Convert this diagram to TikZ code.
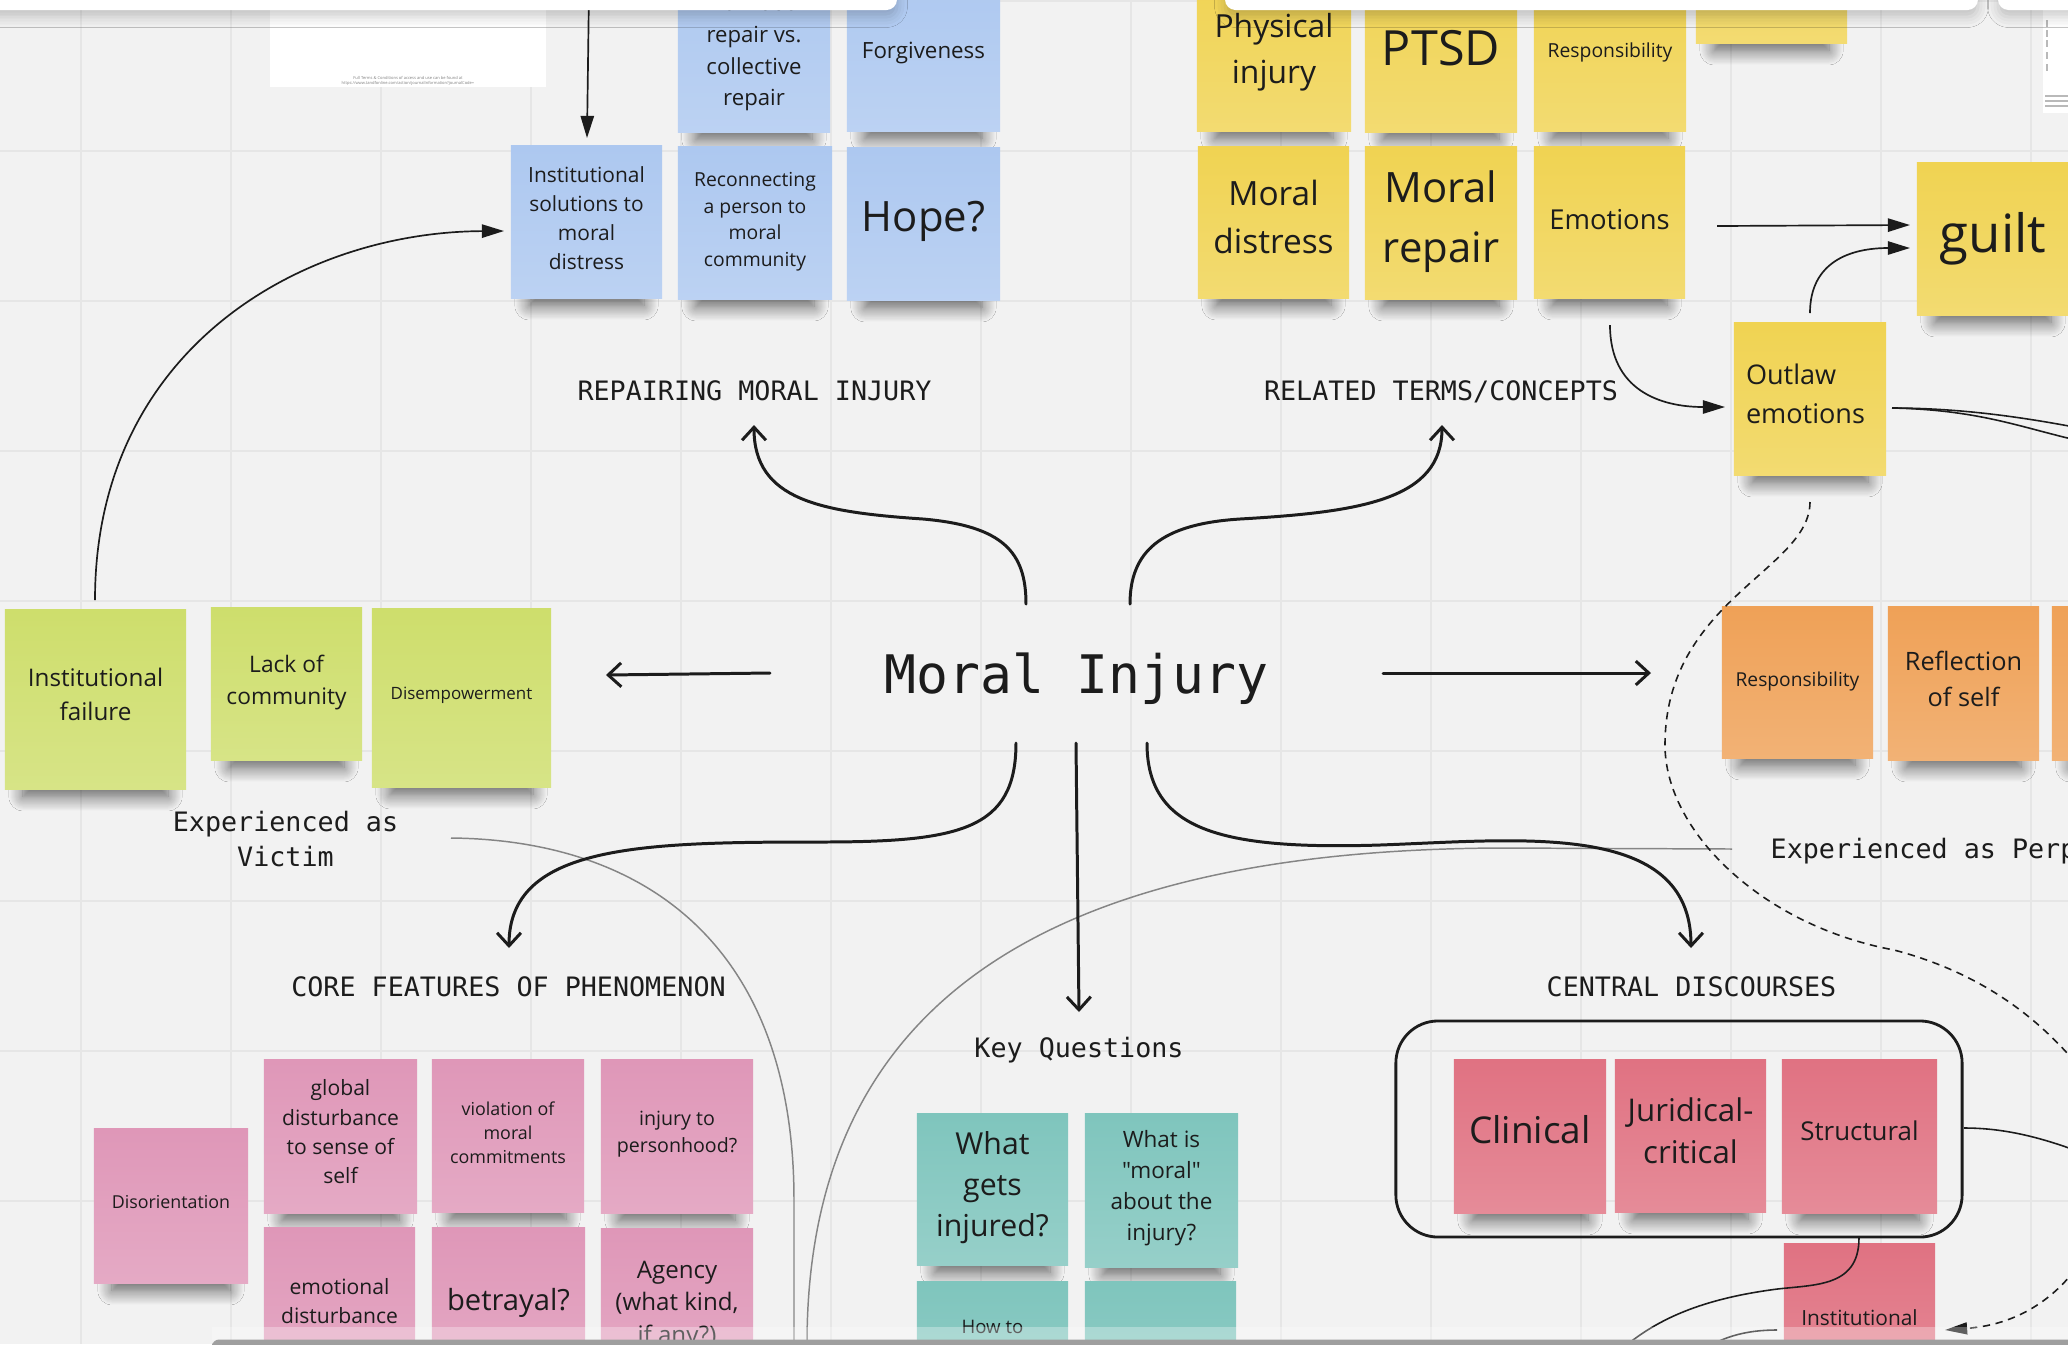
\documentclass[tikz,border=0pt]{standalone}
\usepackage{fontspec}
\setmainfont{Open Sans}
\newfontfamily\rawsans{Open Sans}[Ligatures=TeXOff]
\newfontfamily\monofont{DejaVu Sans Mono}
\usetikzlibrary{arrows.meta,shadows.blur}

\definecolor{boardbg}{HTML}{F2F2F2}
\definecolor{gridgrey}{HTML}{E6E6E6}
\definecolor{ink}{HTML}{1C1C1C}
\definecolor{nblue}{HTML}{ADC8F0}
\definecolor{nyellow}{HTML}{F0D352}
\definecolor{ngreen}{HTML}{CEDE6C}
\definecolor{norange}{HTML}{EFA157}
\definecolor{npink}{HTML}{DF97B8}
\definecolor{nred}{HTML}{E07282}
\definecolor{nteal}{HTML}{7FC5BD}
\definecolor{conngrey}{HTML}{858585}

% font size / baseline skip in pt
\newcommand{\fs}[2]{\fontsize{#1pt}{#2pt}\selectfont}
% sticky note: [text options]{name}{x1}{y1}{x2}{y2}{colour}{font}{text}
\newcommand{\snote}[9][]{%
  \path[noteshadow] ({#3+18},{#6-30}) rectangle ({#5-18},{#6-8});
  \node[sticky=#7,
        minimum width={(#5-(#3))*0.2845pt},
        minimum height={(#6-(#4))*0.2845pt}]
        (#2) at ({(#3+#5)/2},{(#4+#6)/2}) {};
  \node[notetext, font={#8}, #1] (#2-txt) at (#2.center) {#9};}

\tikzset{
  noteshadow/.style={blur shadow={shadow xshift=0pt, shadow yshift=-4.5pt,
      shadow opacity=60, shadow blur radius=4pt, shadow blur steps=14}},
  sticky/.style={inner sep=0pt, outer sep=0pt, top color=#1, bottom color=#1!82!white},
  notetext/.style={inner sep=0pt, text=ink, align=center},
  heading/.style={font={\monofont\fs{7.6}{9.96}}, text=ink, inner sep=0pt},
  bigconn/.style={draw=ink, line width=0.85pt, line cap=round,
    -{Straight Barb[length=3.7pt,width=6.8pt]}},
  thinconn/.style={draw=ink, line width=0.48pt,
    -{Triangle[length=6.3pt,width=3.8pt]}},
  thinline/.style={draw=ink, line width=0.45pt},
  dashconn/.style={draw=ink, line width=0.45pt, dash pattern=on 2.1pt off 1.6pt,
    -{Triangle[length=6.3pt,width=3.4pt]}},
  greyconn/.style={draw=conngrey, line width=0.42pt},
  topbar/.style={white, rounded corners=3pt, blur shadow={shadow xshift=0pt,
      shadow yshift=-2pt, shadow opacity=20, shadow blur radius=3pt}},
}

\begin{document}
\begin{tikzpicture}[x=0.01cm,y=-0.01cm]
\useasboundingbox (0,0) rectangle (2068,1344);
\clip (0,0) rectangle (2068,1344);

% board and grid
\fill[boardbg] (0,0) rectangle (2068,1344);
\foreach \gx in {0,...,13}
  \draw[gridgrey, line width=0.57pt] ({80.7+150*\gx},0) -- ({80.7+150*\gx},1344);
\foreach \gy in {0,...,8}
  \draw[gridgrey, line width=0.57pt] (0,{0.7+150*\gy}) -- (2068,{0.7+150*\gy});

% embedded document pages
\fill[white] (270,-10) rectangle (546,87);
\node[font={\fs{1.15}{1.45}}, text=gray, align=center, inner sep=0pt] (docfoot) at (408,81)
  {Full Terms \& Conditions of access and use can be found at\\https://www.tandfonline.com/action/journalInformation?journalCode=};
\fill[white] (2043,-10) rectangle (2100,113);
\foreach \ty in {20,30,40,52,64}
  \fill[gray!55] (2046,\ty) rectangle (2048,{\ty+7});
\foreach \ty in {95,100,105}
  \fill[gray!55] (2045,\ty) rectangle (2068,{\ty+1.5});

% blue notes
\snote[yshift=-0.6pt]{bl1}{678}{-31}{830}{132}{nblue}{\fs{6.3}{9}}{Individual\\repair vs.\\collective\\repair}
\snote[yshift=-0.4pt]{bl2}{847}{-27}{1000}{131}{nblue}{\fs{6.35}{9}}{Forgiveness}
\snote[yshift=1.1pt]{bl3}{511}{146}{662}{298}{nblue}{\fs{5.95}{8.25}}{Institutional\\solutions to\\moral\\distress}
\snote[yshift=0.4pt]{bl4}{678}{147}{832}{299}{nblue}{\fs{5.5}{7.6}}{Reconnecting\\a person to\\moral\\community}
\snote[yshift=0.75pt]{bl5}{847}{148}{1000}{300}{nblue}{\fs{11.9}{15}}{Hope?}

% yellow notes
\snote[yshift=-0.5pt]{ye1}{1197}{-30}{1351}{131}{nyellow}{\fs{9.05}{13.1}}{Physical\\injury}
\snote[yshift=-0.4pt]{ye2}{1365}{-38}{1517}{132}{nyellow}{\fs{13.8}{17}}{PTSD}
\snote{ye3}{1534}{-27}{1686}{131}{nyellow}{\fs{5.5}{8}}{Responsibility}
\snote{ye4}{1696}{-110}{1847}{43}{nyellow}{\fs{6}{8}}{}
\snote[yshift=1.5pt]{ye5}{1198}{147}{1349}{298}{nyellow}{\fs{9.5}{13.65}}{Moral\\distress}
\snote[yshift=0.4pt]{ye6}{1365}{147}{1517}{299}{nyellow}{\fs{11.9}{17.1}}{Moral\\repair}
\snote[yshift=0.75pt]{ye7}{1534}{147}{1685}{298}{nyellow}{\fs{7.8}{10}}{Emotions}
\snote{guilt}{1917}{163}{2069}{315}{nyellow}{\fs{15}{18}}{guilt}
\snote[align=left, text width=36.4pt, yshift=1.4pt]{outlaw}{1734}{323}{1886}{475}{nyellow}{\fs{7.7}{11.1}}{Outlaw\\emotions}

% orange notes
\snote[yshift=0.4pt]{or1}{1722}{607}{1873}{758}{norange}{\fs{5.46}{8}}{Responsibility}
\snote[yshift=1.3pt]{or2}{1888}{607}{2039}{760}{norange}{\fs{7.2}{9.96}}{Reflection\\of self}
\snote{or3}{2052}{607}{2204}{760}{norange}{\fs{6}{8}}{}

% green notes
\snote[yshift=1.4pt]{gr1}{5}{610}{186}{789}{ngreen}{\fs{6.9}{9.67}}{Institutional\\failure}
\snote[yshift=0.4pt]{gr2}{211}{608}{362}{760}{ngreen}{\fs{6.47}{9.1}}{Lack of\\community}
\snote[yshift=0.75pt]{gr3}{372}{609}{551}{787}{ngreen}{\fs{4.82}{7}}{Disempowerment}

% pink notes
\snote[yshift=1.1pt]{pk1}{94}{1129}{248}{1283}{npink}{\fs{5.07}{7}}{Disorientation}
\snote[yshift=1.3pt]{pk2}{264}{1060}{417}{1213}{npink}{\fs{6}{8.34}}{global\\disturbance\\to sense of\\self}
\snote[yshift=0.9pt]{pk3}{432}{1060}{584}{1212}{npink}{\fs{5.08}{6.83}}{violation of\\moral\\commitments}
\snote[yshift=0.6pt]{pk4}{601}{1060}{753}{1213}{npink}{\fs{5.58}{7.68}}{injury to\\personhood?}
\snote[yshift=0.75pt]{pk5}{264}{1228}{415}{1380}{npink}{\fs{6}{8.25}}{emotional\\disturbance}
\snote[yshift=0.4pt]{pk6}{432}{1228}{585}{1380}{npink}{\fs{8.3}{10}}{betrayal?}
\snote{pk7}{601}{1229}{753}{1381}{npink}{\fs{6.86}{9.25}}{Agency\\(what kind,\\if any?)}

% teal notes
\snote[yshift=0.4pt]{tl1}{917}{1114}{1068}{1265}{nteal}{\fs{8.6}{11.66}}{What\\gets\\injured?}
\snote[yshift=0.75pt]{tl2}{1085}{1114}{1238}{1267}{nteal}{\rawsans\fs{6.4}{8.82}}{What is\\"moral"\\about the\\injury?}
\snote{tl3}{917}{1282}{1068}{1434}{nteal}{\fs{5.3}{7}}{}
\node[font={\fs{5.3}{7}}, text=ink, inner sep=0pt] (tl3-label) at (992.5,1327) {How to};
\snote{tl4}{1085}{1282}{1236}{1434}{nteal}{\fs{5.3}{7}}{}

% red notes and their frame
\snote[yshift=1.9pt]{rd1}{1454}{1060}{1606}{1213}{nred}{\fs{10.5}{13}}{Clinical}
\snote[yshift=1.5pt]{rd2}{1615}{1060}{1766}{1212}{nred}{\fs{8.9}{11.95}}{Juridical-\\critical}
\snote[yshift=1.5pt]{rd3}{1782}{1060}{1937}{1213}{nred}{\fs{7.37}{10}}{Structural}
\snote[yshift=0.75pt]{rd4}{1784}{1244}{1935}{1396}{nred}{\fs{5.94}{8}}{Institutional}
\node[draw=ink, line width=0.8pt, rounded corners=12pt, inner sep=0pt,
      minimum width={566*0.2845pt}, minimum height={216*0.2845pt}] (discframe) at (1679,1129) {};

% headings
\node[heading, anchor=base] (repair) at (754.5,400) {REPAIRING MORAL INJURY};
\node[heading, anchor=base] (related) at (1441,400) {RELATED TERMS/CONCEPTS};
\node[font={\monofont\fs{15.1}{18}}, text=ink, inner sep=0pt, anchor=base] (mi) at (1076.5,693) {Moral Injury};
\node[heading, anchor=north, align=center] (victim) at (285.5,810) {Experienced as\\Victim};
\node[heading, anchor=base west] (perp) at (1770,858) {Experienced as Perpetrator};
\node[heading, anchor=base] (core) at (508.5,996) {CORE FEATURES OF PHENOMENON};
\node[heading, anchor=base] (keyq) at (1079,1057) {Key Questions};
\node[heading, anchor=base] (central) at (1691.5,996) {CENTRAL DISCOURSES};

% connector end points
\coordinate (mi-up-l) at (1026,604);
\coordinate (repair-in) at (754,425);
\coordinate (mi-up-r) at (1130,604);
\coordinate (related-in) at (1442,425);
\coordinate (mi-w) at (770,673);
\coordinate (victim-in) at (606,675);
\coordinate (mi-e) at (1383,673);
\coordinate (perp-in) at (1651,673);
\coordinate (mi-dn-l) at (1016,743);
\coordinate (core-in) at (509,948);
\coordinate (mi-dn) at (1076,743);
\coordinate (keyq-in) at (1079,1012);
\coordinate (mi-dn-r) at (1147,743);
\coordinate (central-in) at (1691,948);
\coordinate (victim-e) at (451,838);
\coordinate (off-h) at (794,1360);
\coordinate (perp-w) at (1732,849);
\coordinate (off-i) at (807,1360);
\coordinate (ye7-e) at (1717,226);
\coordinate (guilt-w) at (1910,225);
\coordinate (outlaw-n) at (1810,313);
\coordinate (guilt-w2) at (1910,248);
\coordinate (ye7-s) at (1610,325);
\coordinate (outlaw-w) at (1725,407);
\coordinate (outlaw-e) at (1892,408);
\coordinate (off-m1) at (2100,432);
\coordinate (off-m2) at (2100,445);
\coordinate (outlaw-s) at (1810,502);
\coordinate (dash-a) at (1665,745);
\coordinate (dash-b) at (1894,950);
\coordinate (dash-off) at (2110,1110);
\coordinate (rd4-e) at (1945,1330);
\coordinate (gr1-n) at (95,600);
\coordinate (bl3-w) at (504,231);
\coordinate (docfoot-s) at (589,-10);
\coordinate (bl3-n) at (587,138);
\coordinate (rd3-e) at (1964,1128);
\coordinate (off-o) at (2100,1160);
\coordinate (frame-s) at (1859,1238);
\coordinate (off-p) at (1610,1360);
\coordinate (rd4-w) at (1777,1330);
\coordinate (off-q) at (1695,1355);

% grey links between the two experience labels and the lower clusters
\draw[greyconn] (victim-e) .. controls (650,840) and (794,950) .. (794,1200) -- (off-h);
\draw[greyconn] (perp-w) -- (1500,848) .. controls (1050,850) and (807,1000) .. (807,1344) -- (off-i);

% main branches out of the central topic
\draw[bigconn] (mi-up-l) .. controls (1026,552) and (1003,526) .. (923,519)
               .. controls (820,512) and (754,500) .. (repair-in);
\draw[bigconn] (mi-up-r) .. controls (1130,552) and (1160,524) .. (1240,519)
               .. controls (1360,512) and (1442,500) .. (related-in);
\draw[bigconn] (mi-w) -- (victim-in);
\draw[bigconn] (mi-e) -- (perp-in);
\draw[bigconn] (mi-dn-l) .. controls (1016,830) and (960,842) .. (820,842)
               .. controls (640,842) and (509,845) .. (core-in);
\draw[bigconn] (mi-dn) -- (keyq-in);
\draw[bigconn] (mi-dn-r) .. controls (1147,830) and (1220,850) .. (1380,845)
               .. controls (1520,840) and (1691,820) .. (central-in);

% thin links
\draw[thinconn] (docfoot-s) -- (bl3-n);
\draw[thinconn] (gr1-n) .. controls (95,350) and (300,232) .. (bl3-w);
\draw[thinconn] (ye7-e) -- (guilt-w);
\draw[thinconn] (outlaw-n) .. controls (1810,262) and (1850,248) .. (guilt-w2);
\draw[thinconn] (ye7-s) .. controls (1610,390) and (1660,407) .. (outlaw-w);
\draw[thinline] (outlaw-e) .. controls (1970,408) and (2040,420) .. (off-m1);
\draw[thinline] (outlaw-e) .. controls (1990,410) and (2030,432) .. (off-m2);
\draw[dashconn] (outlaw-s) .. controls (1810,570) and (1665,600) .. (dash-a)
                .. controls (1665,830) and (1760,925) .. (dash-b)
                .. controls (1990,975) and (2060,1030) .. (dash-off)
                .. controls (2130,1200) and (2080,1320) .. (rd4-e);
\draw[thinline] (rd3-e) .. controls (2000,1128) and (2040,1135) .. (off-o);
\draw[thinline] (frame-s) .. controls (1859,1290) and (1810,1284) .. (1770,1290)
                .. controls (1700,1300) and (1650,1320) .. (off-p);
\draw[thinline] (rd4-w) .. controls (1745,1330) and (1720,1337) .. (off-q);

% toolbar strips along the top edge and scroll bar along the bottom
\fill[topbar] (-30,-30) rectangle (897,10);
\fill[topbar] (1225,-30) rectangle (1978,10);
\fill[topbar] (1998,-30) rectangle (2100,10);
\fill[white, opacity=0.3] (212,1327) rectangle (2068,1340);
\fill[gray!75, rounded corners=2pt] (212,1339.5) rectangle (2100,1350);
\end{tikzpicture}
\end{document}
